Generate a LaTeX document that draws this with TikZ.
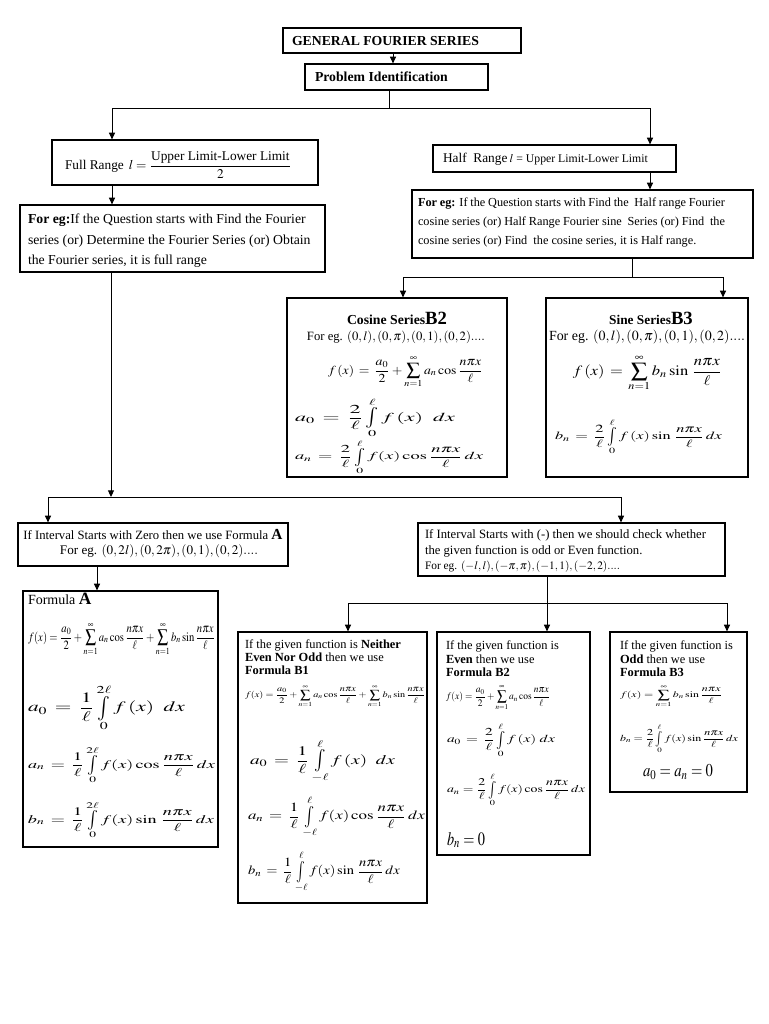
\documentclass[tikz,border=0pt]{standalone}
\usepackage{amsmath}
\usepackage{mathptmx}
\usepackage{fontspec}
\setmainfont{Liberation Serif}
\usepackage{graphicx}
\usetikzlibrary{arrows.meta,fit}
\newlength\pxu \setlength\pxu{0.75pt}
\newcommand\fsz[2]{\fontsize{#1}{#2}\selectfont}
\newcommand\fmx[3]{\resizebox*{#1\pxu}{#2\pxu}{$\displaystyle #3$}}
\newcommand\rbx[2]{\resizebox{#1\pxu}{!}{#2}}
\newcommand\tin[2]{\mathop{\vcenter{\hbox{\scalebox{1}[1.7]{$\textstyle\int$}}}}\limits_{#1}^{#2}}
\newcommand\eqs{\,=\,}
\tikzset{
 box/.style={draw, line width=0.9pt, inner sep=0pt},
 ln/.style={line width=0.75pt},
 arr/.style={ln, -{Triangle[length=5pt,width=4.5pt]}},
 tx/.style={inner sep=0pt, outer sep=0pt},
 t10/.style={tx, font=\fsz{10.3}{12}},
 t9/.style={tx, font=\fsz{9.5}{11}},
 tb/.style={tx, font=\fsz{9.3}{11}},
}
\begin{document}
\begin{tikzpicture}[x=0.75pt,y=-0.75pt]
\useasboundingbox[fill=white] (0,0) rectangle (768,1024);

% ---------- boxes
\node[box, fit={(283,28)(521,53)}] (gfs) {};
\node[box, fit={(305,64)(488,90)}] (pi) {};
\node[box, fit={(52,140)(318,185)}] (fr) {};
\node[box, fit={(433,145)(676,172)}] (hr) {};
\node[box, fit={(20,205)(325,272)}] (lfe) {};
\node[box, fit={(412,190)(753,258)}] (rfe) {};
\node[box, fit={(287,298)(507,477)}] (cosb) {};
\node[box, fit={(546,298)(748,477)}] (sinb) {};
\node[box, fit={(18,523)(288,566)}] (iz) {};
\node[box, fit={(418,523)(725,576)}] (im) {};
\node[box, fit={(23,591)(218,847)}] (fa) {};
\node[box, fit={(238,632)(427,903)}] (b1) {};
\node[box, fit={(437,632)(590,855)}] (b2) {};
\node[box, fit={(610,632)(747,792)}] (b3) {};

% ---------- top texts
\node[tx, anchor=west] (gfsT) at (292,41) {\fsz{10.3}{12}\bfseries GENERAL FOURIER SERIES};
\node[tx, anchor=west] (piT) at (315,77) {\fsz{10.3}{12}\bfseries Problem Identification};
\node[tx, anchor=west] (frT) at (65,165) {\fsz{10}{12}Full Range\hspace{5\pxu}$l=\dfrac{\mbox{Upper Limit-Lower Limit}}{2}$};
\node[tx, anchor=west] (hrT) at (443,159) {\fsz{10}{12}Half\ \ Range\,{\fsz{8.8}{10}$l$ = Upper Limit-Lower Limit}};

% ---------- left for eg
\node[t10, anchor=base west] (lfe1) at (28,223) {\textbf{For eg:}If the Question starts with Find the Fourier};
\node[t10, anchor=base west] (lfe2) at (28,244) {series (or) Determine the Fourier Series (or) Obtain};
\node[t10, anchor=base west] (lfe3) at (28,264) {the Fourier series, it is full range};

% ---------- right for eg
\node[tx, anchor=base west, font=\fsz{9.2}{11}] (rfe1) at (418,206) {\makebox[307\pxu][s]{\textbf{For eg:} If the Question starts with Find the\ \ Half range Fourier}};
\node[tx, anchor=base west, font=\fsz{9.2}{11}] (rfe2) at (418,225) {\makebox[307\pxu][s]{cosine series (or) Half Range Fourier sine\ \ Series (or) Find\ \ the}};
\node[tx, anchor=base west, font=\fsz{9.2}{11}] (rfe3) at (418,244) {cosine series (or) Find\ \ the cosine series, it is Half range.};

% ---------- cosine series
\node[tx] (cosH) at (397,318) {\fsz{10.3}{12}\textbf{Cosine Series}{\fsz{14}{16}\textbf{B2}}};
\node[tx] (cosE) at (396,337) {\rbx{178}{For eg. $(0,l),(0,\pi),(0,1),(0,2)....$}};
\node[tx, anchor=west] (cosF1) at (328,372) {\fmx{155}{32}{f\,(x)\eqs\frac{a_0}{2}+\sum_{n=1}^{\infty}a_n\cos\frac{n\pi x}{\ell}}};
\node[tx, anchor=west] (cosF2) at (295,418) {\fmx{160}{40}{a_0\eqs\frac{2}{\ell}\tin{0}{\ell}f\,(x)\;\;dx}};
\node[tx, anchor=west] (cosF3) at (295,457) {\fmx{188}{35}{a_n\eqs\frac{2}{\ell}\tin{0}{\ell}f(x)\cos\frac{n\pi x}{\ell}\,dx}};

% ---------- sine series
\node[tx] (sinH) at (651,318) {\fsz{10}{12}\textbf{Sine Series}{\fsz{14}{16}\textbf{B3}}};
\node[tx] (sinE) at (647,337) {\rbx{196}{For eg. $(0,l),(0,\pi),(0,1),(0,2)....$}};
\node[tx, anchor=west] (sinF1) at (573,373) {\fmx{149}{37}{f\,(x)\eqs\sum_{n=1}^{\infty}b_n\sin\,\frac{n\pi x}{\ell}}};
\node[tx, anchor=west] (sinF2) at (555,437) {\fmx{167}{36}{b_n\eqs\frac{2}{\ell}\tin{0}{\ell}f\,(x)\sin\,\frac{n\pi x}{\ell}\,dx}};

% ---------- interval zero
\node[t9] (izT1) at (153,534) {If Interval Starts with Zero then we use Formula {\fsz{11.5}{13}\textbf{A}}};
\node[tx] (izT2) at (159,551) {\rbx{198}{For eg. $(0,2l),(0,2\pi),(0,1),(0,2)....$}};

% ---------- interval minus
\node[t9, anchor=base west] (imT1) at (425,538) {If Interval Starts with (-) then we should check whether};
\node[t9, anchor=base west] (imT2) at (425,554) {the given function is odd or Even function.};
\node[tx, anchor=west] (imT3) at (425,567) {\rbx{195}{For eg. $(-l,l),(-\pi,\pi),(-1,1),(-2,2)....$}};

% ---------- formula A
\node[tx, anchor=base west] (faH) at (28,604) {\fsz{10.5}{12}Formula {\fsz{13}{15}\textbf{A}}};
\node[tx, anchor=west] (faF1) at (28,639) {\fmx{187}{33}{f(x)=\frac{a_0}{2}+\sum_{n=1}^{\infty}a_n\cos\frac{n\pi x}{\ell}+\sum_{n=1}^{\infty}b_n\sin\frac{n\pi x}{\ell}}};
\node[tx, anchor=west] (faF2) at (28,708) {\fmx{157}{47}{a_0\eqs\frac{1}{\ell}\tin{0}{2\ell}f\,(x)\;\;dx}};
\node[tx, anchor=west] (faF3) at (28,765) {\fmx{187}{38}{a_n\eqs\frac{1}{\ell}\tin{0}{2\ell}f(x)\cos\frac{n\pi x}{\ell}\,dx}};
\node[tx, anchor=west] (faF4) at (28,820) {\fmx{186}{38}{b_n\eqs\frac{1}{\ell}\tin{0}{2\ell}f(x)\sin\,\frac{n\pi x}{\ell}\,dx}};

% ---------- B1
\node[tb, anchor=base west] (b1T1) at (245,648) {If the given function is \textbf{Neither}};
\node[tb, anchor=base west] (b1T2) at (245,661) {\textbf{Even Nor Odd} then we use};
\node[tb, anchor=base west] (b1T3) at (245,674) {\textbf{Formula B1}};
\node[tx, anchor=west] (b1F1) at (245,696) {\fmx{180}{22}{f(x)=\frac{a_0}{2}+\sum_{n=1}^{\infty}a_n\cos\frac{n\pi x}{\ell}+\sum_{n=1}^{\infty}b_n\sin\frac{n\pi x}{\ell}}};
\node[tx, anchor=west] (b1F2) at (250,761) {\fmx{145}{44}{a_0\eqs\frac{1}{\ell}\tin{-\ell}{\ell}f\,(x)\;\;dx}};
\node[tx, anchor=west] (b1F3) at (248,817) {\fmx{177}{42}{a_n\eqs\frac{1}{\ell}\tin{-\ell}{\ell}f(x)\cos\frac{n\pi x}{\ell}\,dx}};
\node[tx, anchor=west] (b1F4) at (248,872) {\fmx{152}{42}{b_n\eqs\frac{1}{\ell}\tin{-\ell}{\ell}f(x)\sin\,\frac{n\pi x}{\ell}\,dx}};

% ---------- B2
\node[tb, anchor=base west] (b2T1) at (446,649) {If the given function is};
\node[tb, anchor=base west] (b2T2) at (446,663) {\textbf{Even} then we use};
\node[tb, anchor=base west] (b2T3) at (446,676) {\textbf{Formula B2}};
\node[tx, anchor=west] (b2F1) at (446,698) {\fmx{104}{26}{f(x)=\frac{a_0}{2}+\sum_{n=1}^{\infty}a_n\cos\frac{n\pi x}{\ell}}};
\node[tx, anchor=west] (b2F2) at (447,740) {\fmx{108}{35}{a_0\eqs\frac{2}{\ell}\tin{0}{\ell}f\,(x)\;dx}};
\node[tx, anchor=west] (b2F3) at (447,790) {\fmx{138}{34}{a_n=\frac{2}{\ell}\tin{0}{\ell}f(x)\cos\frac{n\pi x}{\ell}\,dx}};
\node[tx, anchor=west] (b2F4) at (447,840) {\fmx{38}{16}{b_n=0}};

% ---------- B3
\node[tb, anchor=base west] (b3T1) at (620,649) {If the given function is};
\node[tb, anchor=base west] (b3T2) at (620,663) {\textbf{Odd} then we use};
\node[tb, anchor=base west] (b3T3) at (620,676) {\textbf{Formula B3}};
\node[tx, anchor=west] (b3F1) at (620,696) {\fmx{102}{22}{f(x)=\sum_{n=1}^{\infty}b_n\sin\frac{n\pi x}{\ell}}};
\node[tx, anchor=west] (b3F2) at (620,739) {\fmx{118}{30}{b_n=\frac{2}{\ell}\tin{0}{\ell}f(x)\sin\frac{n\pi x}{\ell}\,dx}};
\node[tx] (b3F3) at (678,772) {\fmx{70}{15}{a_0=a_n=0}};

% ---------- connectors
\draw[arr] (gfs.south -| 393,0) -- (pi.north -| 393,0);
\coordinate (j1) at (389,108);
\draw[ln] (pi.south -| j1) -- (j1);
\draw[arr] (j1) -| (fr.north -| 112,0);
\draw[arr] (j1) -| (hr.north -| 650,0);
\draw[arr] (fr.south -| 112,0) -- (lfe.north -| 112,0);
\draw[arr] (hr.south -| 650,0) -- (rfe.north -| 650,0);

\coordinate (j2) at (632,277);
\draw[ln] (rfe.south -| j2) -- (j2);
\draw[arr] (j2) -| (cosb.north -| 403,0);
\draw[arr] (j2) -| (sinb.north -| 723,0);

\coordinate (j3) at (111,497);
\coordinate (j3l) at (48,497);
\coordinate (j3r) at (621,497);
\draw[arr] (lfe.south -| j3) -- (j3);
\draw[ln] (j3l) -- (j3r);
\draw[arr] (j3l) -- (iz.north -| j3l);
\draw[arr] (j3r) -- (im.north -| j3r);
\draw[arr] (iz.south -| 97,0) -- (fa.north -| 97,0);

\coordinate (j4) at (547,603);
\coordinate (j4l) at (348,603);
\coordinate (j4r) at (727,603);
\draw[ln] (im.south -| j4) -- (j4);
\draw[ln] (j4l) -- (j4r);
\draw[arr] (j4l) -- (b1.north -| j4l);
\draw[arr] (j4) -- (b2.north -| j4);
\draw[arr] (j4r) -- (b3.north -| j4r);
\end{tikzpicture}
\end{document}
